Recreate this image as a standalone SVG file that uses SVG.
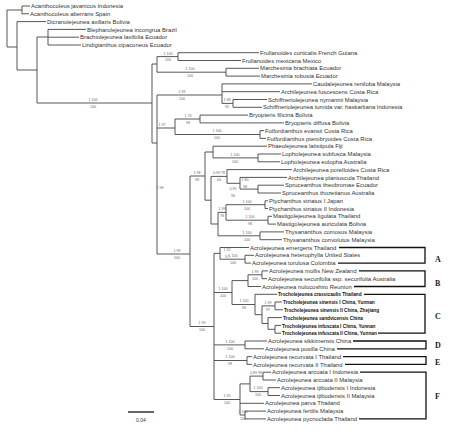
<svg xmlns="http://www.w3.org/2000/svg" width="474" height="440" viewBox="0 0 474 440">
<style>
.t{font-family:"Liberation Sans",Arial,sans-serif;font-size:5.9px;fill:#333}
.b{font-family:"Liberation Sans",Arial,sans-serif;font-size:6px;font-weight:bold;fill:#111}
.s{font-family:"Liberation Sans",Arial,sans-serif;font-size:3.6px;fill:#666;text-anchor:middle}
.L{font-family:"Liberation Serif","Times New Roman",serif;font-size:8px;font-weight:bold;fill:#222}
.e{stroke:#444;stroke-width:0.9;fill:none}
.k{stroke:#111;stroke-width:1.3;fill:none}
</style>
<rect width="474" height="440" fill="#fff"/>
<g id="connectors">
<path class="e" d="M7,10V47M7,10H22M22,6V13.8M22,6H30M22,13.8H29M7,47H17M17,21.6V70M17,21.6H46M17,70H37M37,37V103M37,37H48M48,29.4V45M48,29.4H86M48,37.2H79M48,45H81M37,103H152M152,64V143M152,64H157M157,56.6V72.2M157,56.6H178M178,52.7V60.5M178,52.7H259M178,60.5H241M157,72.2H226M226,68.3V76.1M226,68.3H259M226,76.1H260M152,143H157M157,95V254M157,95H222M222,83.9V103.4M222,83.9H312M222,91.7H280M222,103.4H233M233,99.5V107.3M233,99.5H267M233,107.3H262M157,128H175M175,119V134.5M175,119H200M200,115.1V122.9M200,115.1H248M200,122.9H284M175,134.5H260M260,130.6V138.4M260,130.6H264M260,138.4H266"/>
<path class="e" d="M157,254H190M190,176V326.5M190,176H205M205,152V200.2M205,152H213M213,146.2V157.9M213,146.2H267M213,157.9H258M258,154V161.8M258,154H281M258,161.8H280M205,200.2H211M211,176.4V224M211,176.4H227M227,169.6V183.3M227,169.6H292M227,183.3H240M240,177.4V189.1M240,177.4H287M240,189.1H258M258,185.2V193M258,185.2H284M258,193H281M211,224H218M218,212.4V235.8M218,212.4H226M226,204.7V220.2M226,204.7H265M265,200.8V208.5M265,200.8H268M265,208.5H268M226,220.2H268M268,216.3V224.1M268,216.3H272M268,224.1H276M218,235.8H260M260,231.9V239.7M260,231.9H284M260,239.7H282"/>
<path class="e" d="M190,326.5H214M214,253.4V399.5M214,253.4H220M220,247.5V259.2M220,247.5H249M220,259.2H245M245,255.3V263.1M245,255.3H254M245,263.1H251M214,292.5H232M232,280.6V304.5M232,280.6H248M248,274.8V286.5M248,274.8H262M262,270.9V278.7M262,270.9H268M262,278.7H267M248,286.5H261M232,304.5H255M255,294.3V314.7M255,294.3H277M255,314.7H262M262,305.9V323.5M262,305.9H275M275,302V309.8M275,302H282M275,309.8H283M262,323.5H268M268,317.6V329.3M268,317.6H282M268,329.3H275M275,325.4V333.2M275,325.4H281M275,333.2H281M214,344.9H245M245,341V348.8M245,341H267M245,348.8H264M214,360.5H247M247,356.6V364.4M247,356.6H252M247,364.4H252M214,399.5H240M240,383.9V415M240,383.9H250M250,376.1V391.6M250,376.1H263M263,372.2V380M263,372.2H271M263,380H276M250,391.6H268M268,387.7V395.5M268,387.7H280M268,395.5H280M240,403.3H264M240,415H245M245,411.1V418.9M245,411.1H266M245,418.9H266"/>
<path class="k" d="M128,412H154"/>
</g>
<g id="brackets">
<path class="k" d="M339,247.5H425V263.1H338"/>
<path class="k" d="M359,270.9H425V286.5H354"/>
<path class="k" d="M364,294.3H425V333.2H378"/>
<path class="k" d="M353,341H426V348.8H337"/>
<path class="k" d="M343,356.6H426V364.4H345"/>
<path class="k" d="M360,372.2H426V418.9H359"/>
<text class="L" x="435" y="262">A</text>
<text class="L" x="435" y="286">B</text>
<text class="L" x="435" y="319">C</text>
<text class="L" x="435" y="348">D</text>
<text class="L" x="435" y="365">E</text>
<text class="L" x="435" y="399">F</text>
</g>
<g id="support">
<text class="s" x="93" y="101">1 100</text><text class="s" x="93" y="108">100</text>
<text class="s" x="168" y="55">1 100</text><text class="s" x="168" y="61">100</text>
<text class="s" x="190" y="70">1 100</text><text class="s" x="190" y="77">100</text>
<text class="s" x="182" y="93">1 99</text><text class="s" x="182" y="100">100</text>
<text class="s" x="227" y="101">1 98</text><text class="s" x="227" y="108">95</text>
<text class="s" x="188" y="117">1 74</text><text class="s" x="188" y="124">98</text>
<text class="s" x="162" y="126">1 97</text>
<text class="s" x="217" y="132">1 100</text><text class="s" x="217" y="139">100</text>
<text class="s" x="235" y="156">1 100</text><text class="s" x="235" y="163">100</text>
<text class="s" x="197" y="174">1 98</text><text class="s" x="197" y="181">98</text>
<text class="s" x="219" y="174">0.99 78</text><text class="s" x="219" y="181">64</text>
<text class="s" x="245" y="181">1 80</text><text class="s" x="245" y="188">98</text>
<text class="s" x="233" y="190">0.95</text><text class="s" x="233" y="197">96</text>
<text class="s" x="247" y="203">1 100</text><text class="s" x="247" y="210">100</text>
<text class="s" x="250" y="218">1 100</text><text class="s" x="250" y="225">98</text>
<text class="s" x="222" y="210">1 99</text><text class="s" x="222" y="217">78</text>
<text class="s" x="247" y="234">1 100</text><text class="s" x="247" y="241">100</text>
<text class="s" x="160" y="189">1 98</text>
<text class="s" x="177" y="252">1 99</text><text class="s" x="177" y="259">100</text>
<text class="s" x="227" y="251">1 92</text><text class="s" x="227" y="258">97</text>
<text class="s" x="233" y="257">1 100</text><text class="s" x="233" y="264">100</text>
<text class="s" x="223" y="290">1 100</text><text class="s" x="223" y="297">100</text>
<text class="s" x="255" y="273">1 99</text><text class="s" x="255" y="280">100</text>
<text class="s" x="268" y="304">1 99</text><text class="s" x="268" y="311">97</text>
<text class="s" x="244" y="302">1 100</text><text class="s" x="244" y="309">96</text>
<text class="s" x="202" y="324">1 99</text><text class="s" x="202" y="331">100</text>
<text class="s" x="230" y="343">1 100</text><text class="s" x="230" y="350">100</text>
<text class="s" x="230" y="358">1 100</text><text class="s" x="230" y="365">98</text>
<text class="s" x="227" y="397">1 95</text><text class="s" x="227" y="404">100</text>
<text class="s" x="256" y="374">0.89 98</text>
<text class="s" x="258" y="389">1 100</text><text class="s" x="258" y="396">100</text>
<text class="s" x="243" y="413">1 100</text><text class="s" x="243" y="420">100</text>
</g>
<g id="taxa">
<text class="t" x="31" y="8">Acanthocoleus javanicus Indonesia</text>
<text class="t" x="30" y="16">Acanthocoleus aberrans Spain</text>
<text class="t" x="47" y="24">Dicranolejeunea axillaris Bolivia</text>
<text class="t" x="87" y="31.5">Blepharolejeunea incongrua Brazil</text>
<text class="t" x="80" y="39.3">Brachiolejeunea laxifolia Ecuador</text>
<text class="t" x="82" y="47.1">Lindigianthus cipaconeus Ecuador</text>
<text class="t" x="260" y="54.8">Frullanoides corticalis French Guiana</text>
<text class="t" x="242" y="62.6">Frullanoides mexicana Mexico</text>
<text class="t" x="260" y="70.4">Marchesinia brachiata Ecuador</text>
<text class="t" x="261" y="78.2">Marchesinia robusta Ecuador</text>
<text class="t" x="313" y="86">Caudalejeunea reniloba Malaysia</text>
<text class="t" x="281" y="93.8">Archilejeunea fuscescens Costa Rica</text>
<text class="t" x="268" y="101.6">Schiffneriolejeunea nymannii Malaysia</text>
<text class="t" x="263" y="109.4">Schiffneriolejeunea tumida var. haskarliana Indonesia</text>
<text class="t" x="249" y="117.2">Bryopteris filicina Bolivia</text>
<text class="t" x="285" y="125">Bryopteris diffusa Bolivia</text>
<text class="t" x="265" y="132.7">Fulfordianthus evansii Costa Rica</text>
<text class="t" x="267" y="140.5">Fulfordianthus pterobryoides Costa Rica</text>
<text class="t" x="268" y="148.3">Phaeolejeunea latistipula Fiji</text>
<text class="t" x="282" y="156.1">Lopholejeunea subfusca Malaysia</text>
<text class="t" x="281" y="163.9">Lopholejeunea eulopha Australia</text>
<text class="t" x="293" y="171.7">Archilejeunea porelloides Costa Rica</text>
<text class="t" x="288" y="179.5">Archilejeunea planiuscula Thailand</text>
<text class="t" x="285" y="187.3">Spruceanthus theobromae Ecuador</text>
<text class="t" x="282" y="195.1">Spruceanthus thozetianus Australia</text>
<text class="t" x="269" y="202.9">Ptychanthus striatus I Japan</text>
<text class="t" x="269" y="210.6">Ptychanthus striatus II Indonesia</text>
<text class="t" x="273" y="218.4">Mastigolejeunea ligulata Thailand</text>
<text class="t" x="277" y="226.2">Mastigolejeunea auriculata Bolivia</text>
<text class="t" x="285" y="234">Thysananthus comosus Malaysia</text>
<text class="t" x="283" y="241.8">Thysananthus convolutus Malaysia</text>
<text class="t" x="250" y="249.6">Acrolejeunea emergens Thailand</text>
<text class="t" x="255" y="257.4">Acrolejeunea heterophylla United States</text>
<text class="t" x="252" y="265.2">Acrolejeunea torulosa Colombia</text>
<text class="t" x="269" y="273">Acrolejeunea mollis New Zealand</text>
<text class="t" x="268" y="280.8">Acrolejeunea securifolia ssp. securifolia Australia</text>
<text class="t" x="262" y="288.6">Acrolejeunea nulocoshiro Reunion</text>
<text class="b" x="278" y="296.4" textLength="83.6" lengthAdjust="spacingAndGlyphs">Trocholejeunea crassicaulis Thailand</text>
<text class="b" x="283" y="304.1" textLength="91.7" lengthAdjust="spacingAndGlyphs">Trocholejeunea sinensis I China, Yunnan</text>
<text class="b" x="284" y="311.9" textLength="95.1" lengthAdjust="spacingAndGlyphs">Trocholejeunea sinensis II China, Zhejiang</text>
<text class="b" x="283" y="319.7" textLength="79.9" lengthAdjust="spacingAndGlyphs">Trocholejeunea sandvicensis China</text>
<text class="b" x="282" y="327.5" textLength="93.5" lengthAdjust="spacingAndGlyphs">Trocholejeunea infuscata I China, Yunnan</text>
<text class="b" x="282" y="335.3" textLength="94.8" lengthAdjust="spacingAndGlyphs">Trocholejeunea infuscata II China, Yunnan</text>
<text class="t" x="268" y="343.1">Acrolejeunea sikkimensis China</text>
<text class="t" x="265" y="350.9">Acrolejeunea pusilla China</text>
<text class="t" x="253" y="358.7">Acrolejeunea recurvata I Thailand</text>
<text class="t" x="253" y="366.5">Acrolejeunea recurvata II Thailand</text>
<text class="t" x="272" y="374.3">Acrolejeunea arcuata I Indonesia</text>
<text class="t" x="277" y="382.1">Acrolejeunea arcuata II Malaysia</text>
<text class="t" x="281" y="389.8">Acrolejeunea tjibodensis I Indonesia</text>
<text class="t" x="281" y="397.6">Acrolejeunea tjibodensis II Malaysia</text>
<text class="t" x="265" y="405.4">Acrolejeunea parva Thailand</text>
<text class="t" x="267" y="413.2">Acrolejeunea fertilis Malaysia</text>
<text class="t" x="267" y="421">Acrolejeunea pycnoclada Thailand</text>
</g>
<text class="t" x="136" y="422" style="font-size:5px">0.04</text>
</svg>
